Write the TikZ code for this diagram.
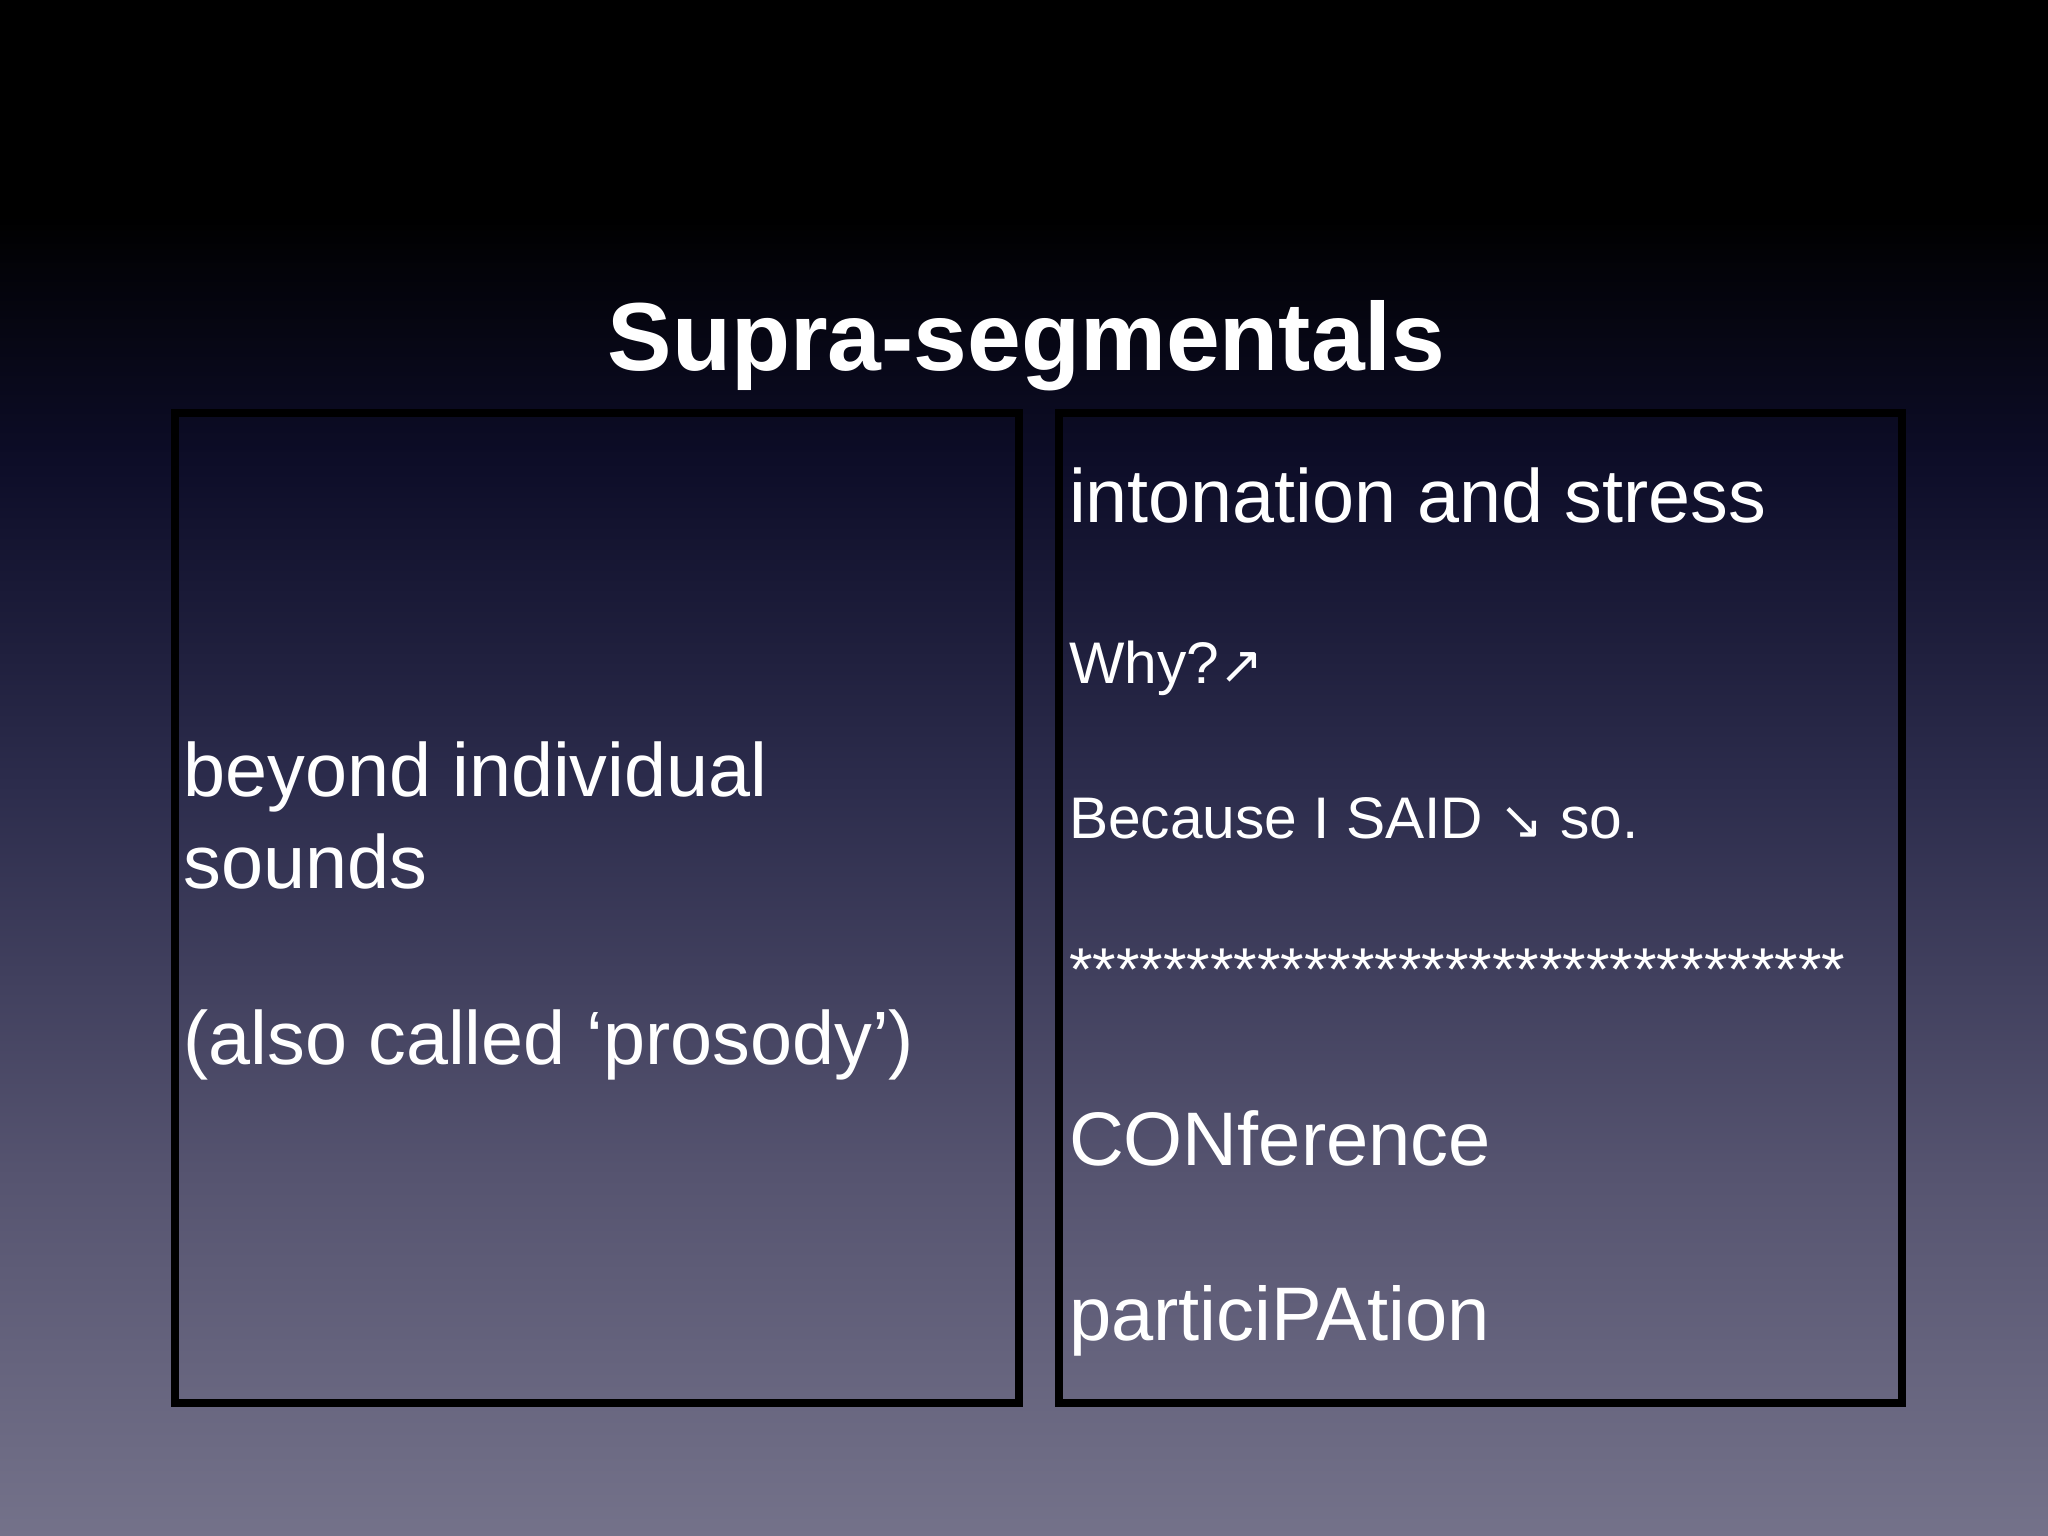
\documentclass[tikz,border=0pt]{standalone}
\usepackage{fontspec}
\setmainfont{Liberation Sans}
\newfontfamily\arrowfont{DejaVu Sans}
\definecolor{c1}{RGB}{116,114,138}
\definecolor{c2}{RGB}{86,84,112}
\definecolor{c3}{RGB}{44,44,76}
\definecolor{c4}{RGB}{13,13,40}
\pgfdeclareverticalshading{bgshade}{100bp}{color(0bp)=(c1); color(25bp)=(c1); color(36.7bp)=(c2); color(49.5bp)=(c3); color(60bp)=(c4); color(68bp)=(black); color(100bp)=(black)}
\begin{document}
\begin{tikzpicture}[x=0.013061cm,y=-0.013061cm,
  box/.style={draw=black,line width=2.2pt},
  txt/.style={anchor=base west,text=white,inner sep=0pt,font=\fontsize{21.5}{26}\selectfont},
  small/.style={txt,font=\fontsize{16.7}{20}\selectfont}]
\useasboundingbox (0,0) rectangle (1568,1176);
\shade[shading=bgshade] (0,0) rectangle (1568,1176);
\node[anchor=base,text=white,font=\bfseries\fontsize{27.5}{32}\selectfont] (title) at (786,284) {Supra-segmentals};
\node[box,minimum width=646*0.013061cm,minimum height=758*0.013061cm,anchor=north west] (left) at (131,313) {};
\node[box,minimum width=645*0.013061cm,minimum height=758*0.013061cm,anchor=north west] (right) at (808,313) {};
\node[txt] (b1) at (140,610) {beyond individual};
\node[txt] (b2) at (140,680) {sounds};
\node[txt] (b3) at (140,815) {(also called ‘prosody’)};
\node[txt] (r1) at (818,400) {intonation and stress};
\node[small] (r2) at (818,523) {Why?{\arrowfont\fontsize{15}{18}\selectfont ↗}};
\node[small] (r3) at (818,642) {Because I SAID {\arrowfont\fontsize{15}{18}\selectfont ↘} so.};
\node[small,font=\fontsize{17.2}{20}\selectfont] (r4) at (818,758) {*********************************};
\node[txt,font=\fontsize{21.6}{26}\selectfont] (r5) at (818,892) {CONference};
\node[txt,font=\fontsize{21.6}{26}\selectfont] (r6) at (818,1026) {particiPAtion};
\end{tikzpicture}
\end{document}
